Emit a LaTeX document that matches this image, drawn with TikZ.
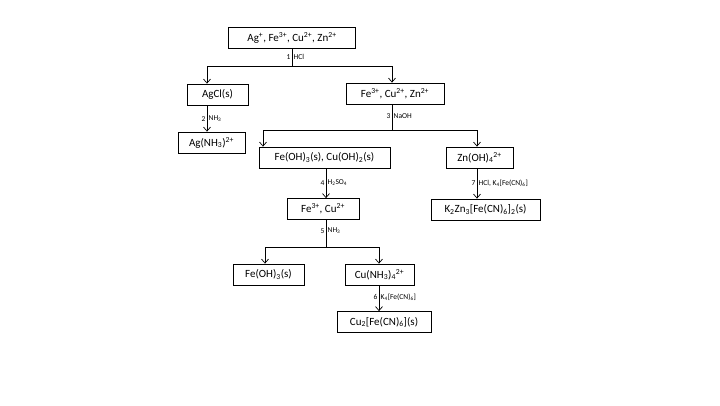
\documentclass[tikz,border=0pt]{standalone}
\usepackage{fontspec}
\setmainfont{Carlito}
\usetikzlibrary{arrows.meta}
\begin{document}
\begin{tikzpicture}[x=1pt,y=-1pt,
  box/.style={draw,line width=0.8pt,inner sep=0pt,minimum height=21pt,font=\fontsize{11}{12}\selectfont},
  ln/.style={line width=0.7pt},
  arr/.style={ln,-{Straight Barb[length=4pt,width=7pt]}},
  lab/.style={font=\fontsize{7.5}{8}\selectfont,inner sep=1.5pt}]
\useasboundingbox (0,0) rectangle (720,405);
\node[box,minimum width=127pt] (top) at (292,37.5) {Ag\textsuperscript{+}, Fe\textsuperscript{3+}, Cu\textsuperscript{2+}, Zn\textsuperscript{2+}};
\node[box,minimum width=61pt] (agcl) at (217.5,94.5) {AgCl(s)};
\node[box,minimum width=98pt] (fcz) at (395,93.5) {Fe\textsuperscript{3+}, Cu\textsuperscript{2+}, Zn\textsuperscript{2+}};
\node[box,minimum width=67pt] (agnh) at (211.5,142.5) {Ag(NH\textsubscript{3})\textsuperscript{2+}};
\node[box,minimum width=131pt] (hyd) at (324.5,157.5) {Fe(OH)\textsubscript{3}(s), Cu(OH)\textsubscript{2}(s)};
\node[box,minimum width=67pt] (zn) at (479.5,157.5) {Zn(OH)\textsubscript{4}\textsuperscript{2+}};
\node[box,minimum width=72pt] (fc) at (323,209) {Fe\textsuperscript{3+}, Cu\textsuperscript{2+}};
\node[box,minimum width=109pt] (kzn) at (485.5,209.5) {K\textsubscript{2}Zn\textsubscript{3}[Fe(CN)\textsubscript{6}]\textsubscript{2}(s)};
\node[box,minimum width=71pt] (feoh) at (268.5,274.5) {Fe(OH)\textsubscript{3}(s)};
\node[box,minimum width=69pt] (cunh) at (379.5,274.5) {Cu(NH\textsubscript{3})\textsubscript{4}\textsuperscript{2+}};
\node[box,minimum width=94pt] (cufe) at (384,322) {Cu\textsubscript{2}[Fe(CN)\textsubscript{6}](s)};
% step 1
\coordinate (j1) at (292,66);
\coordinate (j1l) at (207,66);
\coordinate (j1r) at (392,66);
\draw[ln] (top.south) -- (j1);
\draw[ln] (j1l) -- (j1r);
\draw[arr] (j1l) -- (j1l |- agcl.north);
\draw[arr] (j1r) -- (j1r |- fcz.north);
\node[lab,anchor=east] (l1a) at (292,57) {1};
\node[lab,anchor=west] (l1b) at (292,57) {HCl};
% step 2
\coordinate (s2) at (207,105);
\draw[arr] (s2) -- (s2 |- agnh.north);
\node[lab,anchor=east] (l2a) at (207,119) {2};
\node[lab,anchor=west] (l2b) at (207,119) {NH\textsubscript{3}};
% step 3
\coordinate (s3) at (392,104);
\coordinate (j3) at (392,130);
\coordinate (j3l) at (263,130);
\coordinate (j3r) at (477,130);
\draw[ln] (s3) -- (j3);
\draw[ln] (j3l) -- (j3r);
\draw[arr] (j3l) -- (j3l |- hyd.north);
\draw[arr] (j3r) -- (j3r |- zn.north);
\node[lab,anchor=east] (l3a) at (392,116) {3};
\node[lab,anchor=west] (l3b) at (392,116) {NaOH};
% step 4
\coordinate (s4) at (326,168);
\draw[arr] (s4) -- (s4 |- fc.north);
\node[lab,anchor=east] (l4a) at (326,183) {4};
\node[lab,anchor=west] (l4b) at (326,183) {H\textsubscript{2}SO\textsubscript{4}};
% step 7
\coordinate (s7) at (477,168);
\draw[arr] (s7) -- (s7 |- kzn.north);
\node[lab,anchor=east] (l7a) at (477,183) {7};
\node[lab,anchor=west] (l7b) at (477,183) {HCl, K\textsubscript{4}[Fe(CN)\textsubscript{6}]};
% step 5
\coordinate (s5) at (326,219.5);
\coordinate (j5) at (326,247);
\coordinate (j5l) at (265,247);
\coordinate (j5r) at (379,247);
\draw[ln] (s5) -- (j5);
\draw[ln] (j5l) -- (j5r);
\draw[arr] (j5l) -- (j5l |- feoh.north);
\draw[arr] (j5r) -- (j5r |- cunh.north);
\node[lab,anchor=east] (l5a) at (326,231) {5};
\node[lab,anchor=west] (l5b) at (326,231) {NH\textsubscript{3}};
% step 6
\coordinate (s6) at (379,285);
\draw[arr] (s6) -- (s6 |- cufe.north);
\node[lab,anchor=east] (l6a) at (379,297) {6};
\node[lab,anchor=west] (l6b) at (379,297) {K\textsubscript{4}[Fe(CN)\textsubscript{6}]};
\end{tikzpicture}
\end{document}
